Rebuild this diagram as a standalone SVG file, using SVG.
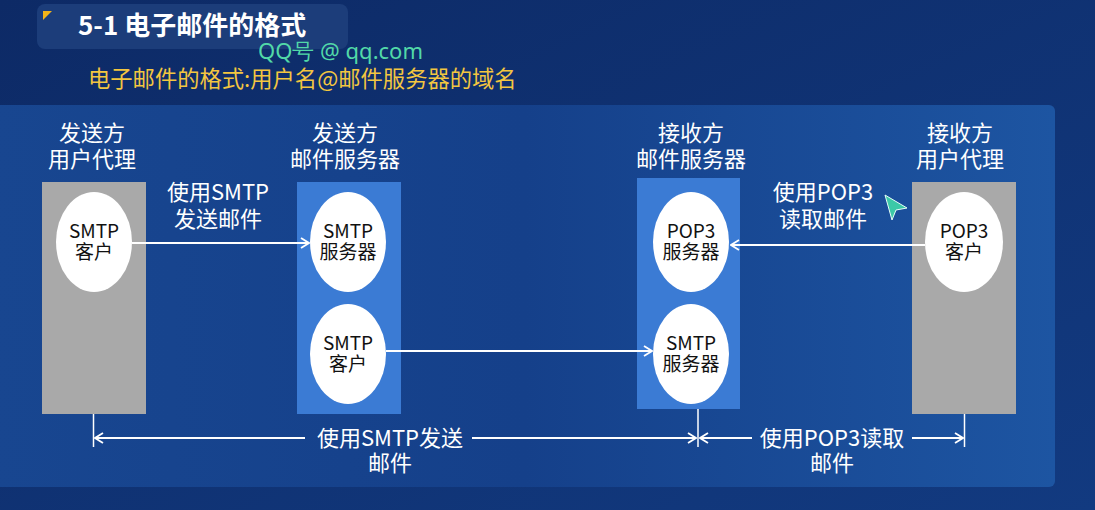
<svg xmlns="http://www.w3.org/2000/svg" width="1095" height="510" viewBox="0 0 1095 510">
<defs>
<linearGradient id="bg" x1="0" y1="0" x2="1" y2="1">
<stop offset="0" stop-color="#0d2a66"/>
<stop offset="1" stop-color="#123a80"/>
</linearGradient>
<linearGradient id="panel" x1="0" y1="0" x2="1" y2="0">
<stop offset="0" stop-color="#184690"/>
<stop offset="0.5" stop-color="#15408a"/>
<stop offset="1" stop-color="#1d55a2"/>
</linearGradient>
<marker id="ah" viewBox="0 0 10 12" refX="9" refY="6" markerWidth="10" markerHeight="12" markerUnits="userSpaceOnUse" orient="auto-start-reverse">
<path d="M1,1 L9,6 L1,11" fill="none" stroke="#ffffff" stroke-width="1.8"/>
</marker>
<style>
text{font-family:"Noto Sans CJK SC","Noto Sans",sans-serif;}
.lbl{fill:#ffffff;font-size:22px;text-anchor:middle;}
.in{fill:#111111;font-size:19px;text-anchor:middle;}
.gray{fill:#a9a9a9;}
.blue{fill:#3b7bd4;}
.ell{fill:#ffffff;}
.ln{stroke:#ffffff;stroke-width:2;fill:none;}
.tick{stroke:#ffffff;stroke-width:1.5;fill:none;}
</style>
</defs>
<rect x="0" y="0" width="1095" height="510" fill="url(#bg)"/>
<rect x="-6" y="105" width="1061" height="382" rx="6" fill="url(#panel)"/>
<g id="title">
<rect x="37" y="4" width="311" height="45" rx="8" fill="#1c3d7a"/>
<path d="M43,11 L52,11 L43,20 Z" fill="#f2b317"/>
<text x="78" y="35" fill="#ffffff" font-size="26" font-weight="bold">5-1 电子邮件的格式</text>
</g>
<text x="258" y="59" fill="#52d9a8" font-size="22" style="font-family:'Noto Sans',sans-serif">QQ号 @ qq.com</text>
<text x="88" y="87" fill="#f3c640" font-size="22.3">电子邮件的格式:用户名@邮件服务器的域名</text>

<g id="sender-ua">
<text class="lbl" x="92" y="141">发送方</text>
<text class="lbl" x="92" y="167">用户代理</text>
<rect class="gray" x="42" y="182" width="104" height="232"/>
<ellipse class="ell" cx="94" cy="242" rx="38" ry="50"/>
<text class="in" x="94" y="238">SMTP</text>
<text class="in" x="94" y="259">客户</text>
</g>
<g id="sender-server">
<text class="lbl" x="345" y="141">发送方</text>
<text class="lbl" x="345" y="167">邮件服务器</text>
<rect class="blue" x="297" y="182" width="104" height="232"/>
<ellipse class="ell" cx="348" cy="242" rx="38" ry="50"/>
<text class="in" x="348" y="238">SMTP</text>
<text class="in" x="348" y="259">服务器</text>
<ellipse class="ell" cx="348" cy="354" rx="38" ry="50"/>
<text class="in" x="348" y="350">SMTP</text>
<text class="in" x="348" y="371">客户</text>
</g>
<g id="receiver-server">
<text class="lbl" x="691" y="141">接收方</text>
<text class="lbl" x="691" y="167">邮件服务器</text>
<rect class="blue" x="637" y="178" width="103" height="231"/>
<ellipse class="ell" cx="691" cy="242" rx="38" ry="50"/>
<text class="in" x="691" y="238">POP3</text>
<text class="in" x="691" y="259">服务器</text>
<ellipse class="ell" cx="691" cy="354" rx="38" ry="50"/>
<text class="in" x="691" y="350">SMTP</text>
<text class="in" x="691" y="371">服务器</text>
</g>
<g id="receiver-ua">
<text class="lbl" x="960" y="141">接收方</text>
<text class="lbl" x="960" y="167">用户代理</text>
<rect class="gray" x="912" y="182" width="104" height="232"/>
<ellipse class="ell" cx="964" cy="242" rx="39" ry="50"/>
<text class="in" x="964" y="238">POP3</text>
<text class="in" x="964" y="259">客户</text>
</g>

<g id="connectors">
<line class="ln" x1="132" y1="243" x2="309" y2="243" marker-end="url(#ah)"/>
<text class="lbl" x="218" y="200">使用SMTP</text>
<text class="lbl" x="218" y="227">发送邮件</text>
<line class="ln" x1="386" y1="351" x2="652" y2="351" marker-end="url(#ah)"/>
<line class="ln" x1="925" y1="245" x2="731" y2="245" marker-end="url(#ah)"/>
<text class="lbl" x="823" y="200">使用POP3</text>
<text class="lbl" x="823" y="227">读取邮件</text>

<line class="tick" x1="93.5" y1="414" x2="93.5" y2="447"/>
<line class="tick" x1="698" y1="409" x2="698" y2="447"/>
<line class="tick" x1="964.5" y1="414" x2="964.5" y2="447"/>
<line class="ln" x1="305" y1="438" x2="95" y2="438" marker-end="url(#ah)"/>
<line class="ln" x1="472" y1="438" x2="696" y2="438" marker-end="url(#ah)"/>
<line class="ln" x1="752" y1="438" x2="700" y2="438" marker-end="url(#ah)"/>
<line class="ln" x1="912" y1="438" x2="963" y2="438" marker-end="url(#ah)"/>
<text class="lbl" x="390" y="446">使用SMTP发送</text>
<text class="lbl" x="390" y="471">邮件</text>
<text class="lbl" x="832" y="446">使用POP3读取</text>
<text class="lbl" x="832" y="471">邮件</text>
</g>
<path d="M885,195 L907,208 L896,210 L892,220 Z" fill="#3cc9a8" stroke="#e8fff8" stroke-width="1"/>
</svg>
